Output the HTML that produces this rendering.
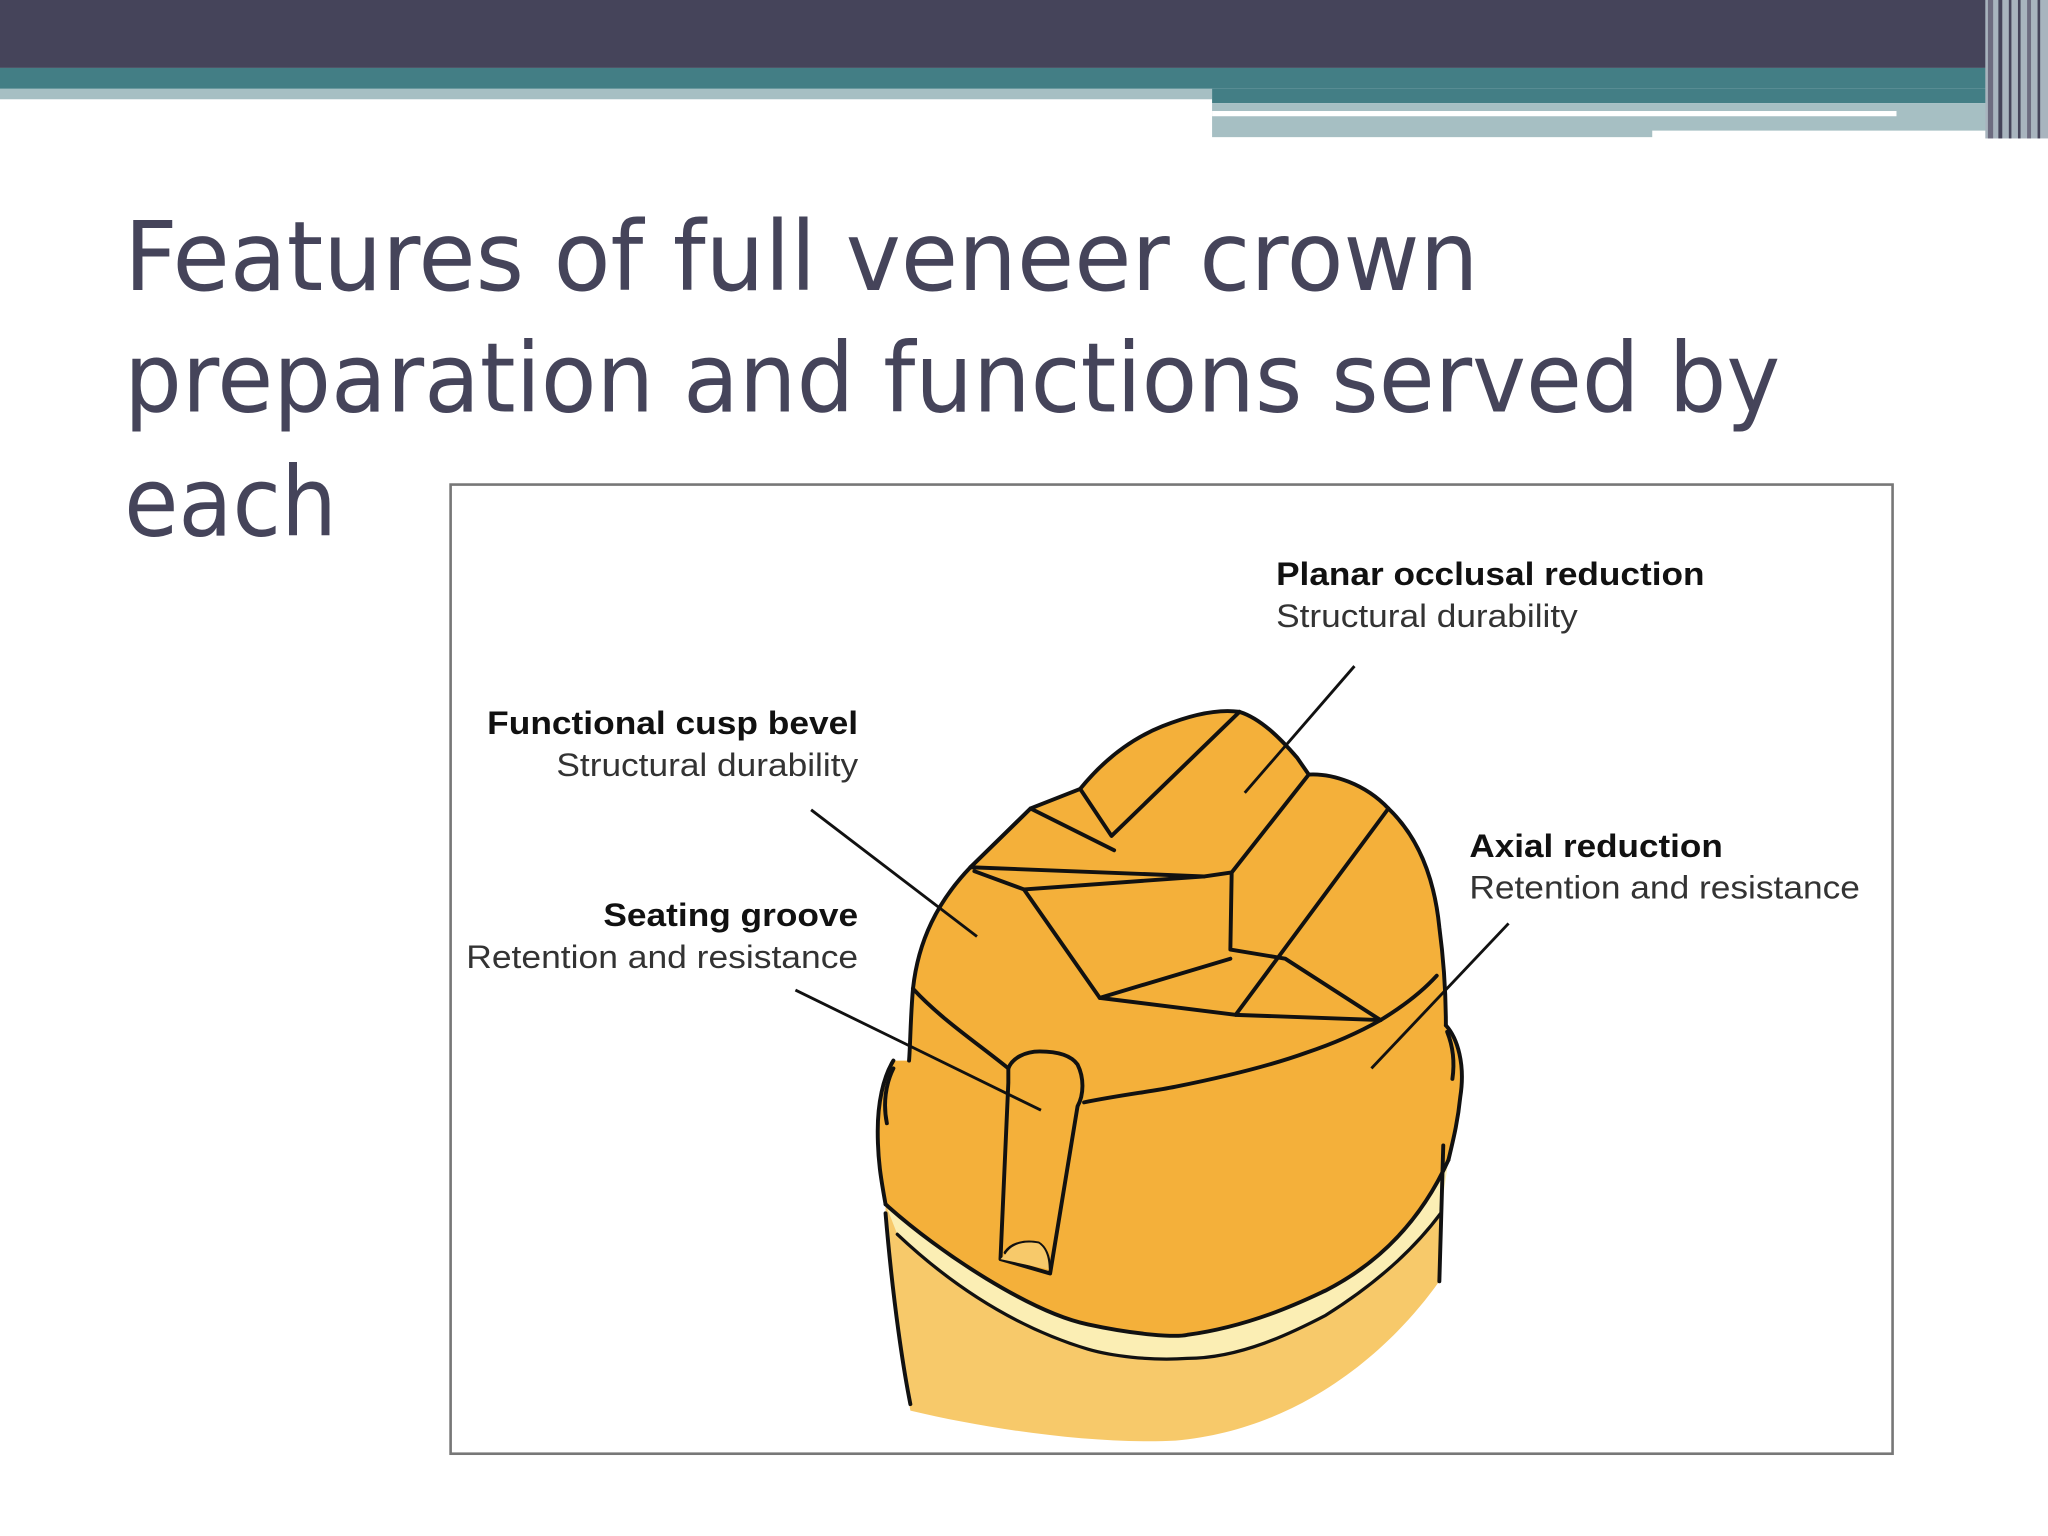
<!DOCTYPE html>
<html><head><meta charset="utf-8"><style>
html,body{margin:0;padding:0;background:#fff;}
svg{display:block}
</style></head><body>
<svg width="2048" height="1536" viewBox="0 0 1568 1176" xmlns="http://www.w3.org/2000/svg">
<rect width="1568" height="1176" fill="#fff"/>
<!-- header bars -->
<rect x="0" y="0" width="1568" height="52" fill="#45445a"/>
<rect x="0" y="52" width="1568" height="16" fill="#437e85"/>
<rect x="0" y="68" width="928" height="8" fill="#a6bfc3"/>
<rect x="928" y="68" width="600" height="11" fill="#437e85"/>
<rect x="928" y="79" width="600" height="26" fill="#a6bfc3"/>
<rect x="928" y="85" width="524" height="4" fill="#fff"/>
<rect x="1265" y="100" width="260" height="6" fill="#fff"/>
<rect x="1520" y="0" width="48" height="106" fill="#a8b4be"/>
<rect x="1522" y="0" width="4" height="106" fill="#6d6c80"/>
<rect x="1530" y="0" width="3" height="106" fill="#45445a"/>
<rect x="1538" y="0" width="2" height="106" fill="#45445a"/>
<rect x="1545" y="0" width="2" height="106" fill="#45445a"/>
<rect x="1552" y="0" width="3" height="106" fill="#6d6c80"/>
<rect x="1560" y="0" width="2" height="106" fill="#45445a"/>
<!-- title -->
<g font-family="'DejaVu Sans','Liberation Sans',sans-serif" font-size="74" fill="#45445a">
<text x="95" y="222" textLength="1037" lengthAdjust="spacingAndGlyphs">Features of full veneer crown</text>
<text x="95" y="315" textLength="1268" lengthAdjust="spacingAndGlyphs">preparation and functions served by</text>
<text x="95" y="410" textLength="163" lengthAdjust="spacingAndGlyphs">each</text>
</g>
<!-- picture frame -->
<rect x="345" y="371" width="1104" height="742" fill="#fff" stroke="#777" stroke-width="2"/>
<!-- root -->
<path d="M678,929 C684,1000 692,1050 697,1080 C760,1095 840,1106 900,1103 C990,1095 1060,1040 1102,981 L1105,877 C1060,940 990,1000 909,1022 C830,1030 740,985 678,922 Z" fill="#f7c96a"/>
<!-- cream band -->
<path d="M678,922 C720,960 790,1005 833,1014 C870,1022 900,1024 909,1022 C960,1015 1000,995 1015,988 C1050,970 1080,945 1109,888 L1103,929 C1080,960 1050,985 1015,1007 C990,1020 950,1040 909,1040 C880,1042 850,1038 833,1033 C790,1020 740,995 687,945 Z" fill="#fbeeb4"/>
<!-- crown -->
<path d="M699,757 C703,720 718,690 743,664 L789,619 L827,604 C840,588 860,568 890,556 C915,546 935,543 949,545 C965,550 980,565 993,580 L1002,593 C1020,592 1045,600 1063,619 C1085,640 1098,670 1102,710 C1106,740 1107,765 1107,785 C1116,795 1122,815 1118,840 C1116,860 1112,875 1109,888 C1090,930 1060,965 1015,988 C1000,995 960,1015 909,1022 C900,1024 870,1022 833,1014 C790,1005 720,960 678,922 C675,905 672,890 672,866 C672,845 676,825 684,812 L696,812 Z" fill="#f4b03a"/>
<g fill="none" stroke="#111" stroke-width="3" stroke-linejoin="round" stroke-linecap="round">
<path d="M699,757 C703,720 718,690 743,664 L789,619 L827,604 C840,588 860,568 890,556 C915,546 935,543 949,545 C965,550 980,565 993,580 L1002,593 C1020,592 1045,600 1063,619 C1085,640 1098,670 1102,710 C1106,740 1107,765 1107,785"/>
<path d="M699,757 C697,780 697,800 696,812"/>
<path d="M684,812 C676,825 672,845 672,866 C672,890 675,905 678,922"/>
<path d="M684,818 C678,830 676,845 679,860"/>
<path d="M1107,785 C1116,795 1122,815 1118,840 C1116,860 1112,875 1109,888"/>
<path d="M1108,790 C1112,800 1114,812 1112,826"/>
<path d="M678,922 C720,960 790,1005 833,1014 C870,1022 900,1024 909,1022 C960,1015 1000,995 1015,988 C1060,965 1090,930 1109,888"/>
<path d="M687,945 C740,995 790,1020 833,1033 C850,1038 880,1042 909,1040 C950,1040 990,1020 1015,1007 C1050,985 1080,960 1103,929" stroke-width="2.5"/>
<path d="M678,929 C684,1000 692,1050 697,1075"/>
<path d="M1105,877 L1102,981"/>
<path d="M949,545 L851,640 L827,604"/>
<path d="M1002,593 L943,668"/>
<path d="M743,664 L789,619 L853,651"/>
<path d="M743,664 L922,671 L943,668 L942,727 L984,734 L1057,781"/>
<path d="M746,667 L784,681 L922,671"/>
<path d="M784,681 L842,764 L942,734"/>
<path d="M1063,619 L946,777"/>
<path d="M842,764 L946,777 L1057,781"/>
<path d="M699,757 C720,780 750,800 772,818"/>
<path d="M830,844 C860,838 880,836 900,832 C940,824 975,815 1000,806 C1030,796 1050,785 1057,781 C1075,770 1090,758 1100,747"/>
<path d="M772,829 L772,818 C775,810 785,805 796,805 C810,805 820,808 825,815 C830,825 830,838 825,847 L804,975 L766,964 L772,829"/>
<path d="M770,959 C775,952 785,950 795,952 C800,955 803,962 803,970"/>
</g>
<path d="M770,960 C775,952 785,950 795,952 C800,955 803,962 803,972 L766,964 Z" fill="#f7c96a"/>
<g stroke="#111" stroke-width="2.2">
<line x1="1037" y1="510" x2="953" y2="607"/>
<line x1="621" y1="620" x2="748" y2="717"/>
<line x1="609" y1="758" x2="797" y2="850"/>
<line x1="1155" y1="707" x2="1050" y2="818"/>
</g>
<g font-family="'Liberation Sans',Arial,sans-serif" font-size="25" fill="#111">
<text x="977" y="448" font-weight="bold" textLength="328" lengthAdjust="spacingAndGlyphs">Planar occlusal reduction</text>
<text x="977" y="480" fill="#333" textLength="231" lengthAdjust="spacingAndGlyphs">Structural durability</text>
<text x="657" y="562" text-anchor="end" font-weight="bold" textLength="284" lengthAdjust="spacingAndGlyphs">Functional cusp bevel</text>
<text x="657" y="594" text-anchor="end" fill="#333" textLength="231" lengthAdjust="spacingAndGlyphs">Structural durability</text>
<text x="657" y="709" text-anchor="end" font-weight="bold" textLength="195" lengthAdjust="spacingAndGlyphs">Seating groove</text>
<text x="657" y="741" text-anchor="end" fill="#333" textLength="300" lengthAdjust="spacingAndGlyphs">Retention and resistance</text>
<text x="1125" y="656" font-weight="bold" textLength="194" lengthAdjust="spacingAndGlyphs">Axial reduction</text>
<text x="1125" y="688" fill="#333" textLength="299" lengthAdjust="spacingAndGlyphs">Retention and resistance</text>
</g>
</svg>
</body></html>
